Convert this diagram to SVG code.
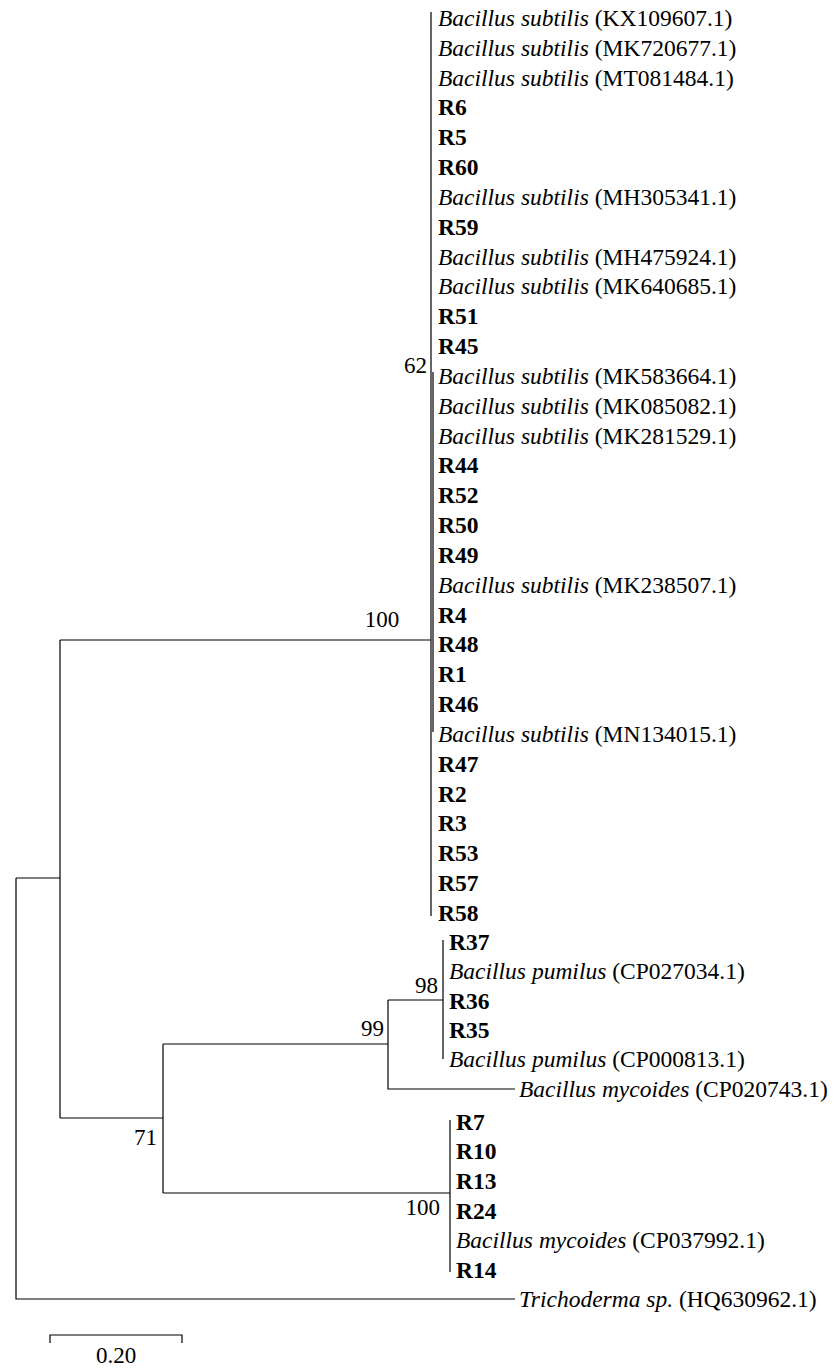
<svg xmlns="http://www.w3.org/2000/svg" width="834" height="1368" viewBox="0 0 834 1368">
<style>
text{font-family:"Liberation Serif","Times New Roman",serif;font-size:23.5px;fill:#000}
.b{font-weight:bold}
.i{font-style:italic}
.n{font-size:23px}
.e{fill:none;stroke:#000;stroke-width:1.2}
</style>
<rect width="834" height="1368" fill="#fff"/>
<g id="connectors" class="e">
<path d="M431,12V916M433,372V732"/>
<path d="M60,640H431M60,640V1118M16,878H60M16,878V1299H515M60,1118H163"/>
<path d="M163,1044V1193M163,1044H388M388,1000V1089H515M388,1000H443M443,940V1059M163,1193H450M450,1120V1272"/>
<path d="M50,1343V1335H182V1343"/>
</g>
<g id="labels">
<text x="438" y="26"><tspan class="i">Bacillus subtilis</tspan> (KX109607.1)</text>
<text x="438" y="56"><tspan class="i">Bacillus subtilis</tspan> (MK720677.1)</text>
<text x="438" y="86"><tspan class="i">Bacillus subtilis</tspan> (MT081484.1)</text>
<text x="438" y="115" class="b">R6</text>
<text x="438" y="145" class="b">R5</text>
<text x="438" y="175" class="b">R60</text>
<text x="438" y="205"><tspan class="i">Bacillus subtilis</tspan> (MH305341.1)</text>
<text x="438" y="235" class="b">R59</text>
<text x="438" y="265"><tspan class="i">Bacillus subtilis</tspan> (MH475924.1)</text>
<text x="438" y="294"><tspan class="i">Bacillus subtilis</tspan> (MK640685.1)</text>
<text x="438" y="324" class="b">R51</text>
<text x="438" y="354" class="b">R45</text>
<text x="438" y="384"><tspan class="i">Bacillus subtilis</tspan> (MK583664.1)</text>
<text x="438" y="414"><tspan class="i">Bacillus subtilis</tspan> (MK085082.1)</text>
<text x="438" y="444"><tspan class="i">Bacillus subtilis</tspan> (MK281529.1)</text>
<text x="438" y="473" class="b">R44</text>
<text x="438" y="503" class="b">R52</text>
<text x="438" y="533" class="b">R50</text>
<text x="438" y="563" class="b">R49</text>
<text x="438" y="593"><tspan class="i">Bacillus subtilis</tspan> (MK238507.1)</text>
<text x="438" y="623" class="b">R4</text>
<text x="438" y="652" class="b">R48</text>
<text x="438" y="682" class="b">R1</text>
<text x="438" y="712" class="b">R46</text>
<text x="438" y="742"><tspan class="i">Bacillus subtilis</tspan> (MN134015.1)</text>
<text x="438" y="772" class="b">R47</text>
<text x="438" y="802" class="b">R2</text>
<text x="438" y="831" class="b">R3</text>
<text x="438" y="861" class="b">R53</text>
<text x="438" y="891" class="b">R57</text>
<text x="438" y="921" class="b">R58</text>
<text x="449" y="950" class="b">R37</text>
<text x="449" y="979"><tspan class="i">Bacillus pumilus</tspan> (CP027034.1)</text>
<text x="449" y="1009" class="b">R36</text>
<text x="449" y="1038" class="b">R35</text>
<text x="449" y="1067"><tspan class="i">Bacillus pumilus</tspan> (CP000813.1)</text>
<text x="519" y="1097"><tspan class="i">Bacillus mycoides</tspan> (CP020743.1)</text>
<text x="456" y="1130" class="b">R7</text>
<text x="456" y="1159" class="b">R10</text>
<text x="456" y="1189" class="b">R13</text>
<text x="456" y="1219" class="b">R24</text>
<text x="456" y="1248"><tspan class="i">Bacillus mycoides</tspan> (CP037992.1)</text>
<text x="456" y="1278" class="b">R14</text>
<text x="519" y="1307"><tspan class="i">Trichoderma sp.</tspan> (HQ630962.1)</text>
</g>
<g id="support">
<text x="427" y="373" class="n" text-anchor="end">62</text>
<text x="382" y="627" class="n" text-anchor="middle">100</text>
<text x="438" y="993" class="n" text-anchor="end">98</text>
<text x="384" y="1036" class="n" text-anchor="end">99</text>
<text x="157" y="1145" class="n" text-anchor="end">71</text>
<text x="440" y="1215" class="n" text-anchor="end">100</text>
<text x="116" y="1363" class="n" text-anchor="middle">0.20</text>
</g>
</svg>
